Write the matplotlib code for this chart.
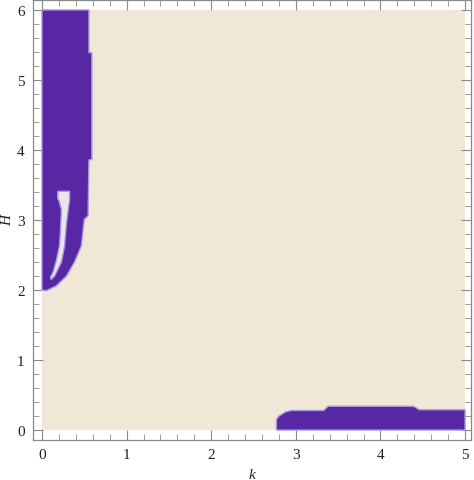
import matplotlib
matplotlib.use("Agg")
import matplotlib.pyplot as plt
from matplotlib.patches import Polygon
from matplotlib.ticker import MultipleLocator

# Region outlines (k, H)
left_k = [0.0, 0.555, 0.555, 0.59, 0.59, 0.555, 0.545, 0.50, 0.465, 0.385, 0.29, 0.17, 0.05, 0.0]
left_H = [6.0, 6.0, 5.39, 5.39, 3.86, 3.86, 3.06, 3.01, 2.63, 2.40, 2.20, 2.06, 1.99, 2.0]

hole_k = [0.187, 0.326, 0.326, 0.31, 0.29, 0.267, 0.23, 0.15, 0.11, 0.10, 0.13, 0.17, 0.207, 0.22, 0.23, 0.20, 0.187]
hole_H = [3.41, 3.41, 3.28, 3.15, 2.95, 2.63, 2.40, 2.20, 2.15, 2.18, 2.25, 2.42, 2.63, 2.87, 3.15, 3.28, 3.30]

bot_k = [2.77, 2.77, 2.80, 2.88, 2.95, 3.33, 3.38, 4.39, 4.46, 5.0, 5.0]
bot_H = [0.0, 0.15, 0.20, 0.26, 0.28, 0.28, 0.34, 0.34, 0.29, 0.29, 0.0]

xticks = [0, 1, 2, 3, 4, 5]
yticks = [0, 1, 2, 3, 4, 5, 6]

purple = "#5828a4"
edge = "#a99be0"
beige = "#f1e7d7"
framec = "#8a8a8a"

plt.rcParams['font.family'] = ['Liberation Serif', 'DejaVu Serif']

fig = plt.figure(figsize=(4.74, 4.81), dpi=100)
ax = fig.add_axes([33/474, 1-441/481, 438/474, 440/481])

ax.set_xlim(-0.106, 5.07)
ax.set_ylim(-0.142, 6.142)

ax.add_patch(plt.Rectangle((0, 0), 5, 6, facecolor=beige, edgecolor='none', zorder=1))
ax.add_patch(Polygon(list(zip(left_k, left_H)), closed=True, facecolor=purple,
                     edgecolor=edge, linewidth=1.0, zorder=2))
ax.add_patch(Polygon(list(zip(hole_k, hole_H)), closed=True, facecolor="#ece6ea",
                     edgecolor=edge, linewidth=1.0, zorder=3))
ax.add_patch(Polygon(list(zip(bot_k, bot_H)), closed=True, facecolor=purple,
                     edgecolor=edge, linewidth=1.0, zorder=2))

ax.set_xticks(xticks)
ax.set_yticks(yticks)
ax.xaxis.set_minor_locator(MultipleLocator(0.2))
ax.yaxis.set_minor_locator(MultipleLocator(0.2))
ax.tick_params(which='both', direction='in', top=True, right=True, color=framec,
               labelsize=11, labelcolor='#222222')
ax.tick_params(which='major', length=7, width=0.8, pad=6)
ax.tick_params(which='minor', length=4, width=0.6)
ax.tick_params(axis='both', which='both', labeltop=False, labelright=False)
for s in ax.spines.values():
    s.set_color(framec)
    s.set_linewidth(0.9)

ax.set_xlabel('k', fontstyle='italic', fontsize=11, color='#222222', labelpad=5)
ax.set_ylabel('H', fontstyle='italic', fontsize=11, color='#222222', labelpad=2)

fig.savefig("out.png", dpi=100)
